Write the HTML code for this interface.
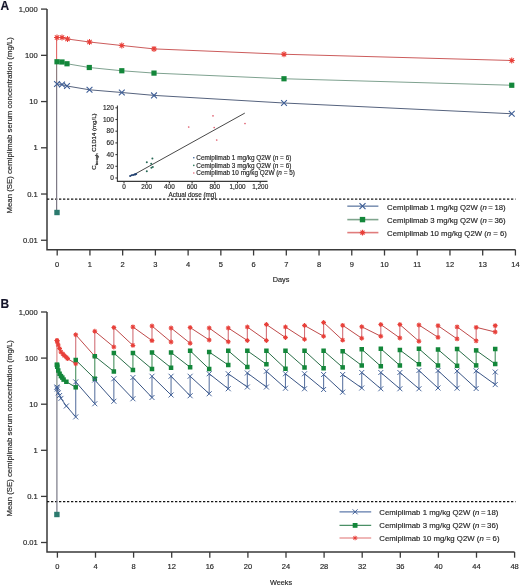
<!DOCTYPE html>
<html><head><meta charset="utf-8"><title>Cemiplimab concentration</title>
<style>html,body{margin:0;padding:0;background:#fff;width:520px;height:586px;overflow:hidden}svg{display:block}</style>
</head><body>
<svg width="520" height="586" viewBox="0 0 520 586" font-family="'Liberation Sans', Arial, Helvetica, sans-serif">
<rect width="520" height="586" fill="#fff"/>
<g transform="translate(0.5 10.0) scale(0.9 1)"><text x="0.00" y="0.00" font-size="13.3" text-anchor="start" fill="#15152a" stroke="#15152a" stroke-width="0.16" font-weight="bold">A</text></g>
<path d="M47,9.10 V249.80 H515.50" stroke="#3a3a3a" stroke-width="1.5" fill="none"/>
<path d="M41,9.10H47" stroke="#3a3a3a" stroke-width="1.3"/>
<text x="37.70" y="11.60" font-size="7.6" text-anchor="end" fill="#262626" stroke="#262626" stroke-width="0.16" >1,000</text>
<path d="M41,55.33H47" stroke="#3a3a3a" stroke-width="1.3"/>
<text x="37.70" y="57.83" font-size="7.6" text-anchor="end" fill="#262626" stroke="#262626" stroke-width="0.16" >100</text>
<path d="M41,101.56H47" stroke="#3a3a3a" stroke-width="1.3"/>
<text x="37.70" y="104.06" font-size="7.6" text-anchor="end" fill="#262626" stroke="#262626" stroke-width="0.16" >10</text>
<path d="M41,147.79H47" stroke="#3a3a3a" stroke-width="1.3"/>
<text x="37.70" y="150.29" font-size="7.6" text-anchor="end" fill="#262626" stroke="#262626" stroke-width="0.16" >1</text>
<path d="M41,194.02H47" stroke="#3a3a3a" stroke-width="1.3"/>
<text x="37.70" y="196.52" font-size="7.6" text-anchor="end" fill="#262626" stroke="#262626" stroke-width="0.16" >0.1</text>
<path d="M41,240.25H47" stroke="#3a3a3a" stroke-width="1.3"/>
<text x="37.70" y="242.75" font-size="7.6" text-anchor="end" fill="#262626" stroke="#262626" stroke-width="0.16" >0.01</text>
<path d="M57.20,249.80V255.50" stroke="#3a3a3a" stroke-width="1.3"/>
<text x="57.20" y="266.70" font-size="7.5" text-anchor="middle" fill="#262626" stroke="#262626" stroke-width="0.16" >0</text>
<path d="M89.93,249.80V255.50" stroke="#3a3a3a" stroke-width="1.3"/>
<text x="89.93" y="266.70" font-size="7.5" text-anchor="middle" fill="#262626" stroke="#262626" stroke-width="0.16" >1</text>
<path d="M122.66,249.80V255.50" stroke="#3a3a3a" stroke-width="1.3"/>
<text x="122.66" y="266.70" font-size="7.5" text-anchor="middle" fill="#262626" stroke="#262626" stroke-width="0.16" >2</text>
<path d="M155.39,249.80V255.50" stroke="#3a3a3a" stroke-width="1.3"/>
<text x="155.39" y="266.70" font-size="7.5" text-anchor="middle" fill="#262626" stroke="#262626" stroke-width="0.16" >3</text>
<path d="M188.12,249.80V255.50" stroke="#3a3a3a" stroke-width="1.3"/>
<text x="188.12" y="266.70" font-size="7.5" text-anchor="middle" fill="#262626" stroke="#262626" stroke-width="0.16" >4</text>
<path d="M220.85,249.80V255.50" stroke="#3a3a3a" stroke-width="1.3"/>
<text x="220.85" y="266.70" font-size="7.5" text-anchor="middle" fill="#262626" stroke="#262626" stroke-width="0.16" >5</text>
<path d="M253.58,249.80V255.50" stroke="#3a3a3a" stroke-width="1.3"/>
<text x="253.58" y="266.70" font-size="7.5" text-anchor="middle" fill="#262626" stroke="#262626" stroke-width="0.16" >6</text>
<path d="M286.31,249.80V255.50" stroke="#3a3a3a" stroke-width="1.3"/>
<text x="286.31" y="266.70" font-size="7.5" text-anchor="middle" fill="#262626" stroke="#262626" stroke-width="0.16" >7</text>
<path d="M319.04,249.80V255.50" stroke="#3a3a3a" stroke-width="1.3"/>
<text x="319.04" y="266.70" font-size="7.5" text-anchor="middle" fill="#262626" stroke="#262626" stroke-width="0.16" >8</text>
<path d="M351.77,249.80V255.50" stroke="#3a3a3a" stroke-width="1.3"/>
<text x="351.77" y="266.70" font-size="7.5" text-anchor="middle" fill="#262626" stroke="#262626" stroke-width="0.16" >9</text>
<path d="M384.50,249.80V255.50" stroke="#3a3a3a" stroke-width="1.3"/>
<text x="384.50" y="266.70" font-size="7.5" text-anchor="middle" fill="#262626" stroke="#262626" stroke-width="0.16" >10</text>
<path d="M417.23,249.80V255.50" stroke="#3a3a3a" stroke-width="1.3"/>
<text x="417.23" y="266.70" font-size="7.5" text-anchor="middle" fill="#262626" stroke="#262626" stroke-width="0.16" >11</text>
<path d="M449.96,249.80V255.50" stroke="#3a3a3a" stroke-width="1.3"/>
<text x="449.96" y="266.70" font-size="7.5" text-anchor="middle" fill="#262626" stroke="#262626" stroke-width="0.16" >12</text>
<path d="M482.69,249.80V255.50" stroke="#3a3a3a" stroke-width="1.3"/>
<text x="482.69" y="266.70" font-size="7.5" text-anchor="middle" fill="#262626" stroke="#262626" stroke-width="0.16" >13</text>
<path d="M515.42,249.80V255.50" stroke="#3a3a3a" stroke-width="1.3"/>
<text x="515.42" y="266.70" font-size="7.5" text-anchor="middle" fill="#262626" stroke="#262626" stroke-width="0.16" >14</text>
<text x="281.00" y="282.40" font-size="7.3" text-anchor="middle" fill="#262626" stroke="#262626" stroke-width="0.16" >Days</text>
<text x="11.60" y="125.30" font-size="7.8" text-anchor="middle" fill="#262626" stroke="#262626" stroke-width="0.16" transform="rotate(-90 11.6 125.3)">Mean (SE) cemiplimab serum concentration (mg/L)</text>
<path d="M47,199.0H515.5" stroke="#151515" stroke-width="1.25" stroke-dasharray="2.3 1.7"/>
<path d="M56.60,212.50 L56.60,84.00" stroke="#7e7a86" stroke-width="1.25" fill="none" stroke-linejoin="round" />
<path d="M56.60,84.00 L56.60,62.00" stroke="#8e7e80" stroke-width="1.2" fill="none" stroke-linejoin="round" />
<path d="M56.60,62.00 L56.60,37.50" stroke="#e06464" stroke-width="1.1" fill="none" stroke-linejoin="round" />
<path d="M57.00,84.00 L62.00,84.50 L67.00,86.00 L89.50,89.80 L121.80,92.50 L154.00,95.40 L284.00,103.00 L511.75,113.75" stroke="#56637e" stroke-width="1.0" fill="none" stroke-linejoin="round" />
<path d="M57.00,61.75 L62.00,62.00 L67.00,63.75 L89.30,67.50 L121.80,70.75 L154.00,73.10 L284.00,78.75 L511.75,85.25" stroke="#7fa290" stroke-width="1.0" fill="none" stroke-linejoin="round" />
<path d="M57.00,37.50 L62.00,37.50 L67.50,39.00 L89.50,42.00 L121.80,45.50 L154.00,48.90 L284.00,54.25 L511.75,60.50" stroke="#cc5c5c" stroke-width="1.0" fill="none" stroke-linejoin="round" />
<path d="M54.10,81.10L59.90,86.90M54.10,86.90L59.90,81.10" stroke="#3f5f97" stroke-width="1.1" fill="none"/>
<path d="M59.10,81.60L64.90,87.40M59.10,87.40L64.90,81.60" stroke="#3f5f97" stroke-width="1.1" fill="none"/>
<path d="M64.10,83.10L69.90,88.90M64.10,88.90L69.90,83.10" stroke="#3f5f97" stroke-width="1.1" fill="none"/>
<path d="M86.60,86.90L92.40,92.70M86.60,92.70L92.40,86.90" stroke="#3f5f97" stroke-width="1.1" fill="none"/>
<path d="M118.90,89.60L124.70,95.40M118.90,95.40L124.70,89.60" stroke="#3f5f97" stroke-width="1.1" fill="none"/>
<path d="M151.10,92.50L156.90,98.30M151.10,98.30L156.90,92.50" stroke="#3f5f97" stroke-width="1.1" fill="none"/>
<path d="M281.10,100.10L286.90,105.90M281.10,105.90L286.90,100.10" stroke="#3f5f97" stroke-width="1.1" fill="none"/>
<path d="M508.85,110.85L514.65,116.65M508.85,116.65L514.65,110.85" stroke="#3f5f97" stroke-width="1.1" fill="none"/>
<rect x="54.40" y="59.15" width="5.2" height="5.2" fill="#13873a"/>
<rect x="59.40" y="59.40" width="5.2" height="5.2" fill="#13873a"/>
<rect x="64.40" y="61.15" width="5.2" height="5.2" fill="#13873a"/>
<rect x="86.70" y="64.90" width="5.2" height="5.2" fill="#13873a"/>
<rect x="119.20" y="68.15" width="5.2" height="5.2" fill="#13873a"/>
<rect x="151.40" y="70.50" width="5.2" height="5.2" fill="#13873a"/>
<rect x="281.40" y="76.15" width="5.2" height="5.2" fill="#13873a"/>
<rect x="509.15" y="82.65" width="5.2" height="5.2" fill="#13873a"/>
<path d="M54.00,37.50H60.00M57.00,34.50V40.50M54.84,35.34L59.16,39.66M54.84,39.66L59.16,35.34" stroke="#e8403a" stroke-width="1.05" fill="none"/><circle cx="57.00" cy="37.50" r="1.35" fill="#e8403a"/>
<path d="M59.00,37.50H65.00M62.00,34.50V40.50M59.84,35.34L64.16,39.66M59.84,39.66L64.16,35.34" stroke="#e8403a" stroke-width="1.05" fill="none"/><circle cx="62.00" cy="37.50" r="1.35" fill="#e8403a"/>
<path d="M64.50,39.00H70.50M67.50,36.00V42.00M65.34,36.84L69.66,41.16M65.34,41.16L69.66,36.84" stroke="#e8403a" stroke-width="1.05" fill="none"/><circle cx="67.50" cy="39.00" r="1.35" fill="#e8403a"/>
<path d="M86.50,42.00H92.50M89.50,39.00V45.00M87.34,39.84L91.66,44.16M87.34,44.16L91.66,39.84" stroke="#e8403a" stroke-width="1.05" fill="none"/><circle cx="89.50" cy="42.00" r="1.35" fill="#e8403a"/>
<path d="M118.80,45.50H124.80M121.80,42.50V48.50M119.64,43.34L123.96,47.66M119.64,47.66L123.96,43.34" stroke="#e8403a" stroke-width="1.05" fill="none"/><circle cx="121.80" cy="45.50" r="1.35" fill="#e8403a"/>
<path d="M151.00,48.90H157.00M154.00,45.90V51.90M151.84,46.74L156.16,51.06M151.84,51.06L156.16,46.74" stroke="#e8403a" stroke-width="1.05" fill="none"/><circle cx="154.00" cy="48.90" r="1.35" fill="#e8403a"/>
<path d="M281.00,54.25H287.00M284.00,51.25V57.25M281.84,52.09L286.16,56.41M281.84,56.41L286.16,52.09" stroke="#e8403a" stroke-width="1.05" fill="none"/><circle cx="284.00" cy="54.25" r="1.35" fill="#e8403a"/>
<path d="M508.75,60.50H514.75M511.75,57.50V63.50M509.59,58.34L513.91,62.66M509.59,62.66L513.91,58.34" stroke="#e8403a" stroke-width="1.05" fill="none"/><circle cx="511.75" cy="60.50" r="1.35" fill="#e8403a"/>
<rect x="54.30" y="209.80" width="5.4" height="5.4" fill="#2b7a6e"/>
<path d="M347.3,206.2H378.4" stroke="#8095b5" stroke-width="1.6"/>
<path d="M359.50,203.20L365.50,209.20M359.50,209.20L365.50,203.20" stroke="#3f5f97" stroke-width="1.2" fill="none"/>
<text x="387.10" y="209.90" font-size="7.78" text-anchor="start" fill="#262626" stroke="#262626" stroke-width="0.16" >Cemiplimab 1 mg/kg Q2W (<tspan font-style="italic">n</tspan> = 18)</text>
<path d="M347.3,219.6H378.4" stroke="#7fa58d" stroke-width="1.6"/>
<rect x="359.80" y="216.90" width="5.4" height="5.4" fill="#13873a"/>
<text x="387.10" y="223.30" font-size="7.78" text-anchor="start" fill="#262626" stroke="#262626" stroke-width="0.16" >Cemiplimab 3 mg/kg Q2W (<tspan font-style="italic">n</tspan> = 36)</text>
<path d="M347.3,232.6H378.4" stroke="#e07c7c" stroke-width="1.6"/>
<path d="M359.70,232.60H365.30M362.50,229.80V235.40M360.48,230.58L364.52,234.62M360.48,234.62L364.52,230.58" stroke="#e8403a" stroke-width="1.2" fill="none"/><circle cx="362.50" cy="232.60" r="1.26" fill="#e8403a"/>
<text x="387.10" y="236.30" font-size="7.78" text-anchor="start" fill="#262626" stroke="#262626" stroke-width="0.16" >Cemiplimab 10 mg/kg Q2W (<tspan font-style="italic">n</tspan> = 6)</text>
<path d="M117.4,105.5 V181.4 H267.5" stroke="#3a3a3a" stroke-width="1.1" fill="none"/>
<path d="M115.4,178.00H117.4" stroke="#3a3a3a" stroke-width="1.1"/>
<text x="113.80" y="180.20" font-size="6.5" text-anchor="end" fill="#262626" stroke="#262626" stroke-width="0.16" >0</text>
<path d="M115.4,166.30H117.4" stroke="#3a3a3a" stroke-width="1.1"/>
<text x="113.80" y="168.50" font-size="6.5" text-anchor="end" fill="#262626" stroke="#262626" stroke-width="0.16" >20</text>
<path d="M115.4,154.60H117.4" stroke="#3a3a3a" stroke-width="1.1"/>
<text x="113.80" y="156.80" font-size="6.5" text-anchor="end" fill="#262626" stroke="#262626" stroke-width="0.16" >40</text>
<path d="M115.4,142.90H117.4" stroke="#3a3a3a" stroke-width="1.1"/>
<text x="113.80" y="145.10" font-size="6.5" text-anchor="end" fill="#262626" stroke="#262626" stroke-width="0.16" >60</text>
<path d="M115.4,131.20H117.4" stroke="#3a3a3a" stroke-width="1.1"/>
<text x="113.80" y="133.40" font-size="6.5" text-anchor="end" fill="#262626" stroke="#262626" stroke-width="0.16" >80</text>
<path d="M115.4,119.50H117.4" stroke="#3a3a3a" stroke-width="1.1"/>
<text x="113.80" y="121.70" font-size="6.5" text-anchor="end" fill="#262626" stroke="#262626" stroke-width="0.16" >100</text>
<path d="M115.4,107.80H117.4" stroke="#3a3a3a" stroke-width="1.1"/>
<text x="113.80" y="110.00" font-size="6.5" text-anchor="end" fill="#262626" stroke="#262626" stroke-width="0.16" >120</text>
<path d="M124.00,181.4V183.4" stroke="#3a3a3a" stroke-width="1.1"/>
<text x="124.00" y="188.60" font-size="6.4" text-anchor="middle" fill="#262626" stroke="#262626" stroke-width="0.16" >0</text>
<path d="M146.70,181.4V183.4" stroke="#3a3a3a" stroke-width="1.1"/>
<text x="146.70" y="188.60" font-size="6.4" text-anchor="middle" fill="#262626" stroke="#262626" stroke-width="0.16" >200</text>
<path d="M169.40,181.4V183.4" stroke="#3a3a3a" stroke-width="1.1"/>
<text x="169.40" y="188.60" font-size="6.4" text-anchor="middle" fill="#262626" stroke="#262626" stroke-width="0.16" >400</text>
<path d="M192.10,181.4V183.4" stroke="#3a3a3a" stroke-width="1.1"/>
<text x="192.10" y="188.60" font-size="6.4" text-anchor="middle" fill="#262626" stroke="#262626" stroke-width="0.16" >600</text>
<path d="M214.80,181.4V183.4" stroke="#3a3a3a" stroke-width="1.1"/>
<text x="214.80" y="188.60" font-size="6.4" text-anchor="middle" fill="#262626" stroke="#262626" stroke-width="0.16" >800</text>
<path d="M237.50,181.4V183.4" stroke="#3a3a3a" stroke-width="1.1"/>
<text x="237.50" y="188.60" font-size="6.4" text-anchor="middle" fill="#262626" stroke="#262626" stroke-width="0.16" >1,000</text>
<path d="M260.20,181.4V183.4" stroke="#3a3a3a" stroke-width="1.1"/>
<text x="260.20" y="188.60" font-size="6.4" text-anchor="middle" fill="#262626" stroke="#262626" stroke-width="0.16" >1,200</text>
<text x="192.50" y="196.60" font-size="6.35" text-anchor="middle" fill="#262626" stroke="#262626" stroke-width="0.16" >Actual dose (mg)</text>
<text x="96.3" y="141.5" font-size="6.1" text-anchor="middle" fill="#262626" stroke="#262626" stroke-width="0.2" transform="rotate(-90 96.3 141.5)">C<tspan font-size="4.2" dy="1.6">trough</tspan><tspan dy="-1.6"> C1D14 (mg/L)</tspan></text>
<path d="M133,175.2 L244.8,113.1" stroke="#333" stroke-width="0.9"/>
<circle cx="130.1" cy="175.9" r="1.0" fill="#1f3f70"/>
<circle cx="131.6" cy="175.3" r="1.0" fill="#1f3f70"/>
<circle cx="133" cy="175.0" r="1.0" fill="#1f3f70"/>
<circle cx="134.5" cy="174.6" r="1.0" fill="#1f3f70"/>
<circle cx="136.2" cy="174.0" r="1.0" fill="#1f3f70"/>
<circle cx="135.2" cy="174.4" r="1.0" fill="#1f3f70"/>
<circle cx="146.8" cy="162.3" r="1.0" fill="#2a6a58"/>
<circle cx="152.4" cy="158.5" r="1.0" fill="#2a6a58"/>
<circle cx="151.2" cy="163.8" r="1.0" fill="#2a6a58"/>
<circle cx="151.4" cy="167.7" r="1.0" fill="#2a6a58"/>
<circle cx="152.8" cy="167.1" r="1.0" fill="#2a6a58"/>
<circle cx="146.8" cy="171.3" r="1.0" fill="#2a6a58"/>
<circle cx="188.7" cy="127" r="0.85" fill="#e06070"/>
<circle cx="213" cy="115.8" r="0.85" fill="#e06070"/>
<circle cx="214.2" cy="127.5" r="0.85" fill="#e06070"/>
<circle cx="216.7" cy="140" r="0.85" fill="#e06070"/>
<circle cx="245" cy="123.5" r="0.85" fill="#e06070"/>
<circle cx="193.8" cy="157.7" r="0.8" fill="#2f5b8f"/>
<text x="196.30" y="159.90" font-size="6.4" text-anchor="start" fill="#262626" stroke="#262626" stroke-width="0.16" >Cemiplimab 1 mg/kg Q2W (<tspan font-style="italic">n</tspan> = 6)</text>
<circle cx="193.8" cy="165.4" r="0.8" fill="#2c7a5a"/>
<text x="196.30" y="167.60" font-size="6.4" text-anchor="start" fill="#262626" stroke="#262626" stroke-width="0.16" >Cemiplimab 3 mg/kg Q2W (<tspan font-style="italic">n</tspan> = 6)</text>
<circle cx="193.8" cy="173.0" r="0.8" fill="#e06070"/>
<text x="196.30" y="175.20" font-size="6.4" text-anchor="start" fill="#262626" stroke="#262626" stroke-width="0.16" >Cemiplimab 10 mg/kg Q2W (<tspan font-style="italic">n</tspan> = 5)</text>
<g transform="translate(0.5 308.4) scale(0.9 1)"><text x="0.00" y="0.00" font-size="13.3" text-anchor="start" fill="#15152a" stroke="#15152a" stroke-width="0.16" font-weight="bold">B</text></g>
<path d="M47,312.00 V552.00 H514.60" stroke="#3a3a3a" stroke-width="1.5" fill="none"/>
<path d="M41,312.00H47" stroke="#3a3a3a" stroke-width="1.3"/>
<text x="37.70" y="314.50" font-size="7.6" text-anchor="end" fill="#262626" stroke="#262626" stroke-width="0.16" >1,000</text>
<path d="M41,358.10H47" stroke="#3a3a3a" stroke-width="1.3"/>
<text x="37.70" y="360.60" font-size="7.6" text-anchor="end" fill="#262626" stroke="#262626" stroke-width="0.16" >100</text>
<path d="M41,404.20H47" stroke="#3a3a3a" stroke-width="1.3"/>
<text x="37.70" y="406.70" font-size="7.6" text-anchor="end" fill="#262626" stroke="#262626" stroke-width="0.16" >10</text>
<path d="M41,450.30H47" stroke="#3a3a3a" stroke-width="1.3"/>
<text x="37.70" y="452.80" font-size="7.6" text-anchor="end" fill="#262626" stroke="#262626" stroke-width="0.16" >1</text>
<path d="M41,496.40H47" stroke="#3a3a3a" stroke-width="1.3"/>
<text x="37.70" y="498.90" font-size="7.6" text-anchor="end" fill="#262626" stroke="#262626" stroke-width="0.16" >0.1</text>
<path d="M41,542.50H47" stroke="#3a3a3a" stroke-width="1.3"/>
<text x="37.70" y="545.00" font-size="7.6" text-anchor="end" fill="#262626" stroke="#262626" stroke-width="0.16" >0.01</text>
<path d="M57.40,552.00V557.70" stroke="#3a3a3a" stroke-width="1.3"/>
<text x="57.40" y="569.20" font-size="7.5" text-anchor="middle" fill="#262626" stroke="#262626" stroke-width="0.16" >0</text>
<path d="M95.50,552.00V557.70" stroke="#3a3a3a" stroke-width="1.3"/>
<text x="95.50" y="569.20" font-size="7.5" text-anchor="middle" fill="#262626" stroke="#262626" stroke-width="0.16" >4</text>
<path d="M133.60,552.00V557.70" stroke="#3a3a3a" stroke-width="1.3"/>
<text x="133.60" y="569.20" font-size="7.5" text-anchor="middle" fill="#262626" stroke="#262626" stroke-width="0.16" >8</text>
<path d="M171.70,552.00V557.70" stroke="#3a3a3a" stroke-width="1.3"/>
<text x="171.70" y="569.20" font-size="7.5" text-anchor="middle" fill="#262626" stroke="#262626" stroke-width="0.16" >12</text>
<path d="M209.80,552.00V557.70" stroke="#3a3a3a" stroke-width="1.3"/>
<text x="209.80" y="569.20" font-size="7.5" text-anchor="middle" fill="#262626" stroke="#262626" stroke-width="0.16" >16</text>
<path d="M247.90,552.00V557.70" stroke="#3a3a3a" stroke-width="1.3"/>
<text x="247.90" y="569.20" font-size="7.5" text-anchor="middle" fill="#262626" stroke="#262626" stroke-width="0.16" >20</text>
<path d="M286.00,552.00V557.70" stroke="#3a3a3a" stroke-width="1.3"/>
<text x="286.00" y="569.20" font-size="7.5" text-anchor="middle" fill="#262626" stroke="#262626" stroke-width="0.16" >24</text>
<path d="M324.10,552.00V557.70" stroke="#3a3a3a" stroke-width="1.3"/>
<text x="324.10" y="569.20" font-size="7.5" text-anchor="middle" fill="#262626" stroke="#262626" stroke-width="0.16" >28</text>
<path d="M362.20,552.00V557.70" stroke="#3a3a3a" stroke-width="1.3"/>
<text x="362.20" y="569.20" font-size="7.5" text-anchor="middle" fill="#262626" stroke="#262626" stroke-width="0.16" >32</text>
<path d="M400.30,552.00V557.70" stroke="#3a3a3a" stroke-width="1.3"/>
<text x="400.30" y="569.20" font-size="7.5" text-anchor="middle" fill="#262626" stroke="#262626" stroke-width="0.16" >36</text>
<path d="M438.40,552.00V557.70" stroke="#3a3a3a" stroke-width="1.3"/>
<text x="438.40" y="569.20" font-size="7.5" text-anchor="middle" fill="#262626" stroke="#262626" stroke-width="0.16" >40</text>
<path d="M476.50,552.00V557.70" stroke="#3a3a3a" stroke-width="1.3"/>
<text x="476.50" y="569.20" font-size="7.5" text-anchor="middle" fill="#262626" stroke="#262626" stroke-width="0.16" >44</text>
<path d="M514.60,552.00V557.70" stroke="#3a3a3a" stroke-width="1.3"/>
<text x="514.60" y="569.20" font-size="7.5" text-anchor="middle" fill="#262626" stroke="#262626" stroke-width="0.16" >48</text>
<text x="281.00" y="584.90" font-size="7.3" text-anchor="middle" fill="#262626" stroke="#262626" stroke-width="0.16" >Weeks</text>
<text x="11.60" y="428.30" font-size="7.8" text-anchor="middle" fill="#262626" stroke="#262626" stroke-width="0.16" transform="rotate(-90 11.6 428.3)">Mean (SE) cemiplimab serum concentration (mg/L)</text>
<path d="M47,501.5H515.5" stroke="#151515" stroke-width="1.25" stroke-dasharray="2.3 1.7"/>
<path d="M56.90,514.50 L56.90,387.00" stroke="#7e7e8a" stroke-width="1.25" fill="none" stroke-linejoin="round" />
<path d="M56.90,387.00 L56.90,364.75" stroke="#7e8a84" stroke-width="1.2" fill="none" stroke-linejoin="round" />
<path d="M56.90,364.75 L56.90,340.50" stroke="#dc8c8c" stroke-width="1.2" fill="none" stroke-linejoin="round" />
<path d="M75.72,363.75 L75.72,334.75" stroke="#d27078" stroke-width="1.1" fill="none" stroke-linejoin="round" />
<path d="M94.79,356.25 L94.79,331.25" stroke="#d27078" stroke-width="1.1" fill="none" stroke-linejoin="round" />
<path d="M113.85,347.00 L113.85,327.50" stroke="#d27078" stroke-width="1.1" fill="none" stroke-linejoin="round" />
<path d="M132.92,345.40 L132.92,326.90" stroke="#d27078" stroke-width="1.1" fill="none" stroke-linejoin="round" />
<path d="M151.99,340.60 L151.99,326.00" stroke="#d27078" stroke-width="1.1" fill="none" stroke-linejoin="round" />
<path d="M171.06,342.00 L171.06,328.00" stroke="#d27078" stroke-width="1.1" fill="none" stroke-linejoin="round" />
<path d="M190.13,343.25 L190.13,327.50" stroke="#d27078" stroke-width="1.1" fill="none" stroke-linejoin="round" />
<path d="M209.19,340.00 L209.19,328.00" stroke="#d27078" stroke-width="1.1" fill="none" stroke-linejoin="round" />
<path d="M228.26,341.75 L228.26,328.00" stroke="#d27078" stroke-width="1.1" fill="none" stroke-linejoin="round" />
<path d="M247.33,340.50 L247.33,327.00" stroke="#d27078" stroke-width="1.1" fill="none" stroke-linejoin="round" />
<path d="M266.40,340.50 L266.40,324.50" stroke="#d27078" stroke-width="1.1" fill="none" stroke-linejoin="round" />
<path d="M285.47,337.50 L285.47,327.00" stroke="#d27078" stroke-width="1.1" fill="none" stroke-linejoin="round" />
<path d="M304.53,339.25 L304.53,325.50" stroke="#d27078" stroke-width="1.1" fill="none" stroke-linejoin="round" />
<path d="M323.60,336.25 L323.60,322.50" stroke="#d27078" stroke-width="1.1" fill="none" stroke-linejoin="round" />
<path d="M342.67,340.20 L342.67,325.30" stroke="#d27078" stroke-width="1.1" fill="none" stroke-linejoin="round" />
<path d="M361.74,338.25 L361.74,326.75" stroke="#d27078" stroke-width="1.1" fill="none" stroke-linejoin="round" />
<path d="M380.81,336.25 L380.81,324.50" stroke="#d27078" stroke-width="1.1" fill="none" stroke-linejoin="round" />
<path d="M399.87,338.00 L399.87,324.50" stroke="#d27078" stroke-width="1.1" fill="none" stroke-linejoin="round" />
<path d="M418.94,341.25 L418.94,325.00" stroke="#d27078" stroke-width="1.1" fill="none" stroke-linejoin="round" />
<path d="M438.01,337.30 L438.01,325.70" stroke="#d27078" stroke-width="1.1" fill="none" stroke-linejoin="round" />
<path d="M457.08,338.90 L457.08,326.90" stroke="#d27078" stroke-width="1.1" fill="none" stroke-linejoin="round" />
<path d="M476.15,340.80 L476.15,327.30" stroke="#d27078" stroke-width="1.1" fill="none" stroke-linejoin="round" />
<path d="M495.21,332.00 L495.21,325.60" stroke="#d27078" stroke-width="1.1" fill="none" stroke-linejoin="round" />
<path d="M56.90,340.50 L57.11,340.50 L57.34,342.00 L58.25,345.00 L59.60,348.50 L60.94,351.90 L62.80,353.80 L64.30,355.60 L66.35,357.25 L67.60,358.60 L75.72,363.75" stroke="#bf4a4a" stroke-width="1.0" fill="none" stroke-linejoin="round" />
<path d="M75.72,334.75 L94.79,356.25" stroke="#bf4a4a" stroke-width="1.0" fill="none" stroke-linejoin="round" />
<path d="M94.79,331.25 L113.85,347.00" stroke="#bf4a4a" stroke-width="1.0" fill="none" stroke-linejoin="round" />
<path d="M113.85,327.50 L132.92,345.40" stroke="#bf4a4a" stroke-width="1.0" fill="none" stroke-linejoin="round" />
<path d="M132.92,326.90 L151.99,340.60" stroke="#bf4a4a" stroke-width="1.0" fill="none" stroke-linejoin="round" />
<path d="M151.99,326.00 L171.06,342.00" stroke="#bf4a4a" stroke-width="1.0" fill="none" stroke-linejoin="round" />
<path d="M171.06,328.00 L190.13,343.25" stroke="#bf4a4a" stroke-width="1.0" fill="none" stroke-linejoin="round" />
<path d="M190.13,327.50 L209.19,340.00" stroke="#bf4a4a" stroke-width="1.0" fill="none" stroke-linejoin="round" />
<path d="M209.19,328.00 L228.26,341.75" stroke="#bf4a4a" stroke-width="1.0" fill="none" stroke-linejoin="round" />
<path d="M228.26,328.00 L247.33,340.50" stroke="#bf4a4a" stroke-width="1.0" fill="none" stroke-linejoin="round" />
<path d="M247.33,327.00 L266.40,340.50" stroke="#bf4a4a" stroke-width="1.0" fill="none" stroke-linejoin="round" />
<path d="M266.40,324.50 L285.47,337.50" stroke="#bf4a4a" stroke-width="1.0" fill="none" stroke-linejoin="round" />
<path d="M285.47,327.00 L304.53,339.25" stroke="#bf4a4a" stroke-width="1.0" fill="none" stroke-linejoin="round" />
<path d="M304.53,325.50 L323.60,336.25" stroke="#bf4a4a" stroke-width="1.0" fill="none" stroke-linejoin="round" />
<path d="M323.60,322.50 L342.67,340.20" stroke="#bf4a4a" stroke-width="1.0" fill="none" stroke-linejoin="round" />
<path d="M342.67,325.30 L361.74,338.25" stroke="#bf4a4a" stroke-width="1.0" fill="none" stroke-linejoin="round" />
<path d="M361.74,326.75 L380.81,336.25" stroke="#bf4a4a" stroke-width="1.0" fill="none" stroke-linejoin="round" />
<path d="M380.81,324.50 L399.87,338.00" stroke="#bf4a4a" stroke-width="1.0" fill="none" stroke-linejoin="round" />
<path d="M399.87,324.50 L418.94,341.25" stroke="#bf4a4a" stroke-width="1.0" fill="none" stroke-linejoin="round" />
<path d="M418.94,325.00 L438.01,337.30" stroke="#bf4a4a" stroke-width="1.0" fill="none" stroke-linejoin="round" />
<path d="M438.01,325.70 L457.08,338.90" stroke="#bf4a4a" stroke-width="1.0" fill="none" stroke-linejoin="round" />
<path d="M457.08,326.90 L476.15,340.80" stroke="#bf4a4a" stroke-width="1.0" fill="none" stroke-linejoin="round" />
<path d="M476.15,327.30 L495.21,332.00" stroke="#bf4a4a" stroke-width="1.0" fill="none" stroke-linejoin="round" />
<path d="M75.72,387.30 L75.72,360.00" stroke="#47905e" stroke-width="1.1" fill="none" stroke-linejoin="round" />
<path d="M94.79,378.75 L94.79,356.25" stroke="#47905e" stroke-width="1.1" fill="none" stroke-linejoin="round" />
<path d="M113.85,371.50 L113.85,353.00" stroke="#47905e" stroke-width="1.1" fill="none" stroke-linejoin="round" />
<path d="M132.92,370.00 L132.92,353.00" stroke="#47905e" stroke-width="1.1" fill="none" stroke-linejoin="round" />
<path d="M151.99,369.00 L151.99,352.50" stroke="#47905e" stroke-width="1.1" fill="none" stroke-linejoin="round" />
<path d="M171.06,367.75 L171.06,352.50" stroke="#47905e" stroke-width="1.1" fill="none" stroke-linejoin="round" />
<path d="M190.13,367.25 L190.13,350.75" stroke="#47905e" stroke-width="1.1" fill="none" stroke-linejoin="round" />
<path d="M209.19,369.00 L209.19,352.00" stroke="#47905e" stroke-width="1.1" fill="none" stroke-linejoin="round" />
<path d="M228.26,365.00 L228.26,350.75" stroke="#47905e" stroke-width="1.1" fill="none" stroke-linejoin="round" />
<path d="M247.33,367.00 L247.33,350.75" stroke="#47905e" stroke-width="1.1" fill="none" stroke-linejoin="round" />
<path d="M266.40,364.25 L266.40,350.75" stroke="#47905e" stroke-width="1.1" fill="none" stroke-linejoin="round" />
<path d="M285.47,368.75 L285.47,350.75" stroke="#47905e" stroke-width="1.1" fill="none" stroke-linejoin="round" />
<path d="M304.53,367.50 L304.53,350.75" stroke="#47905e" stroke-width="1.1" fill="none" stroke-linejoin="round" />
<path d="M323.60,368.25 L323.60,350.75" stroke="#47905e" stroke-width="1.1" fill="none" stroke-linejoin="round" />
<path d="M342.67,367.40 L342.67,351.25" stroke="#47905e" stroke-width="1.1" fill="none" stroke-linejoin="round" />
<path d="M361.74,365.50 L361.74,349.25" stroke="#47905e" stroke-width="1.1" fill="none" stroke-linejoin="round" />
<path d="M380.81,366.25 L380.81,348.75" stroke="#47905e" stroke-width="1.1" fill="none" stroke-linejoin="round" />
<path d="M399.87,365.50 L399.87,350.00" stroke="#47905e" stroke-width="1.1" fill="none" stroke-linejoin="round" />
<path d="M418.94,364.25 L418.94,348.75" stroke="#47905e" stroke-width="1.1" fill="none" stroke-linejoin="round" />
<path d="M438.01,365.50 L438.01,349.50" stroke="#47905e" stroke-width="1.1" fill="none" stroke-linejoin="round" />
<path d="M457.08,365.80 L457.08,349.00" stroke="#47905e" stroke-width="1.1" fill="none" stroke-linejoin="round" />
<path d="M476.15,365.40 L476.15,350.40" stroke="#47905e" stroke-width="1.1" fill="none" stroke-linejoin="round" />
<path d="M495.21,364.00 L495.21,349.00" stroke="#47905e" stroke-width="1.1" fill="none" stroke-linejoin="round" />
<path d="M56.90,364.75 L57.11,365.00 L57.32,366.75 L58.24,370.50 L59.60,373.75 L60.94,376.10 L62.30,377.60 L63.60,379.60 L66.35,381.75 L75.72,387.30" stroke="#2a6e48" stroke-width="1.0" fill="none" stroke-linejoin="round" />
<path d="M75.72,360.00 L94.79,378.75" stroke="#2a6e48" stroke-width="1.0" fill="none" stroke-linejoin="round" />
<path d="M94.79,356.25 L113.85,371.50" stroke="#2a6e48" stroke-width="1.0" fill="none" stroke-linejoin="round" />
<path d="M113.85,353.00 L132.92,370.00" stroke="#2a6e48" stroke-width="1.0" fill="none" stroke-linejoin="round" />
<path d="M132.92,353.00 L151.99,369.00" stroke="#2a6e48" stroke-width="1.0" fill="none" stroke-linejoin="round" />
<path d="M151.99,352.50 L171.06,367.75" stroke="#2a6e48" stroke-width="1.0" fill="none" stroke-linejoin="round" />
<path d="M171.06,352.50 L190.13,367.25" stroke="#2a6e48" stroke-width="1.0" fill="none" stroke-linejoin="round" />
<path d="M190.13,350.75 L209.19,369.00" stroke="#2a6e48" stroke-width="1.0" fill="none" stroke-linejoin="round" />
<path d="M209.19,352.00 L228.26,365.00" stroke="#2a6e48" stroke-width="1.0" fill="none" stroke-linejoin="round" />
<path d="M228.26,350.75 L247.33,367.00" stroke="#2a6e48" stroke-width="1.0" fill="none" stroke-linejoin="round" />
<path d="M247.33,350.75 L266.40,364.25" stroke="#2a6e48" stroke-width="1.0" fill="none" stroke-linejoin="round" />
<path d="M266.40,350.75 L285.47,368.75" stroke="#2a6e48" stroke-width="1.0" fill="none" stroke-linejoin="round" />
<path d="M285.47,350.75 L304.53,367.50" stroke="#2a6e48" stroke-width="1.0" fill="none" stroke-linejoin="round" />
<path d="M304.53,350.75 L323.60,368.25" stroke="#2a6e48" stroke-width="1.0" fill="none" stroke-linejoin="round" />
<path d="M323.60,350.75 L342.67,367.40" stroke="#2a6e48" stroke-width="1.0" fill="none" stroke-linejoin="round" />
<path d="M342.67,351.25 L361.74,365.50" stroke="#2a6e48" stroke-width="1.0" fill="none" stroke-linejoin="round" />
<path d="M361.74,349.25 L380.81,366.25" stroke="#2a6e48" stroke-width="1.0" fill="none" stroke-linejoin="round" />
<path d="M380.81,348.75 L399.87,365.50" stroke="#2a6e48" stroke-width="1.0" fill="none" stroke-linejoin="round" />
<path d="M399.87,350.00 L418.94,364.25" stroke="#2a6e48" stroke-width="1.0" fill="none" stroke-linejoin="round" />
<path d="M418.94,348.75 L438.01,365.50" stroke="#2a6e48" stroke-width="1.0" fill="none" stroke-linejoin="round" />
<path d="M438.01,349.50 L457.08,365.80" stroke="#2a6e48" stroke-width="1.0" fill="none" stroke-linejoin="round" />
<path d="M457.08,349.00 L476.15,365.40" stroke="#2a6e48" stroke-width="1.0" fill="none" stroke-linejoin="round" />
<path d="M476.15,350.40 L495.21,364.00" stroke="#2a6e48" stroke-width="1.0" fill="none" stroke-linejoin="round" />
<path d="M75.72,416.90 L75.72,381.90" stroke="#6078a4" stroke-width="1.1" fill="none" stroke-linejoin="round" />
<path d="M94.79,403.75 L94.79,380.00" stroke="#6078a4" stroke-width="1.1" fill="none" stroke-linejoin="round" />
<path d="M113.85,401.25 L113.85,378.75" stroke="#6078a4" stroke-width="1.1" fill="none" stroke-linejoin="round" />
<path d="M132.92,398.75 L132.92,377.50" stroke="#6078a4" stroke-width="1.1" fill="none" stroke-linejoin="round" />
<path d="M151.99,397.50 L151.99,376.25" stroke="#6078a4" stroke-width="1.1" fill="none" stroke-linejoin="round" />
<path d="M171.06,395.00 L171.06,376.25" stroke="#6078a4" stroke-width="1.1" fill="none" stroke-linejoin="round" />
<path d="M190.13,395.75 L190.13,376.25" stroke="#6078a4" stroke-width="1.1" fill="none" stroke-linejoin="round" />
<path d="M209.19,393.75 L209.19,373.75" stroke="#6078a4" stroke-width="1.1" fill="none" stroke-linejoin="round" />
<path d="M228.26,388.75 L228.26,373.75" stroke="#6078a4" stroke-width="1.1" fill="none" stroke-linejoin="round" />
<path d="M247.33,387.00 L247.33,373.00" stroke="#6078a4" stroke-width="1.1" fill="none" stroke-linejoin="round" />
<path d="M266.40,387.00 L266.40,371.25" stroke="#6078a4" stroke-width="1.1" fill="none" stroke-linejoin="round" />
<path d="M285.47,388.25 L285.47,373.75" stroke="#6078a4" stroke-width="1.1" fill="none" stroke-linejoin="round" />
<path d="M304.53,388.75 L304.53,373.75" stroke="#6078a4" stroke-width="1.1" fill="none" stroke-linejoin="round" />
<path d="M323.60,389.50 L323.60,374.50" stroke="#6078a4" stroke-width="1.1" fill="none" stroke-linejoin="round" />
<path d="M342.67,392.20 L342.67,374.50" stroke="#6078a4" stroke-width="1.1" fill="none" stroke-linejoin="round" />
<path d="M361.74,388.00 L361.74,372.50" stroke="#6078a4" stroke-width="1.1" fill="none" stroke-linejoin="round" />
<path d="M380.81,388.75 L380.81,372.50" stroke="#6078a4" stroke-width="1.1" fill="none" stroke-linejoin="round" />
<path d="M399.87,388.75 L399.87,372.50" stroke="#6078a4" stroke-width="1.1" fill="none" stroke-linejoin="round" />
<path d="M418.94,388.75 L418.94,370.50" stroke="#6078a4" stroke-width="1.1" fill="none" stroke-linejoin="round" />
<path d="M438.01,388.00 L438.01,370.60" stroke="#6078a4" stroke-width="1.1" fill="none" stroke-linejoin="round" />
<path d="M457.08,388.20 L457.08,371.00" stroke="#6078a4" stroke-width="1.1" fill="none" stroke-linejoin="round" />
<path d="M476.15,388.50 L476.15,370.80" stroke="#6078a4" stroke-width="1.1" fill="none" stroke-linejoin="round" />
<path d="M495.21,384.60 L495.21,372.00" stroke="#6078a4" stroke-width="1.1" fill="none" stroke-linejoin="round" />
<path d="M56.90,387.00 L57.11,387.50 L57.32,389.00 L58.25,392.80 L59.60,395.50 L60.94,398.40 L66.35,406.00 L75.72,416.90" stroke="#3a5585" stroke-width="1.0" fill="none" stroke-linejoin="round" />
<path d="M75.72,381.90 L94.79,403.75" stroke="#3a5585" stroke-width="1.0" fill="none" stroke-linejoin="round" />
<path d="M94.79,380.00 L113.85,401.25" stroke="#3a5585" stroke-width="1.0" fill="none" stroke-linejoin="round" />
<path d="M113.85,378.75 L132.92,398.75" stroke="#3a5585" stroke-width="1.0" fill="none" stroke-linejoin="round" />
<path d="M132.92,377.50 L151.99,397.50" stroke="#3a5585" stroke-width="1.0" fill="none" stroke-linejoin="round" />
<path d="M151.99,376.25 L171.06,395.00" stroke="#3a5585" stroke-width="1.0" fill="none" stroke-linejoin="round" />
<path d="M171.06,376.25 L190.13,395.75" stroke="#3a5585" stroke-width="1.0" fill="none" stroke-linejoin="round" />
<path d="M190.13,376.25 L209.19,393.75" stroke="#3a5585" stroke-width="1.0" fill="none" stroke-linejoin="round" />
<path d="M209.19,373.75 L228.26,388.75" stroke="#3a5585" stroke-width="1.0" fill="none" stroke-linejoin="round" />
<path d="M228.26,373.75 L247.33,387.00" stroke="#3a5585" stroke-width="1.0" fill="none" stroke-linejoin="round" />
<path d="M247.33,373.00 L266.40,387.00" stroke="#3a5585" stroke-width="1.0" fill="none" stroke-linejoin="round" />
<path d="M266.40,371.25 L285.47,388.25" stroke="#3a5585" stroke-width="1.0" fill="none" stroke-linejoin="round" />
<path d="M285.47,373.75 L304.53,388.75" stroke="#3a5585" stroke-width="1.0" fill="none" stroke-linejoin="round" />
<path d="M304.53,373.75 L323.60,389.50" stroke="#3a5585" stroke-width="1.0" fill="none" stroke-linejoin="round" />
<path d="M323.60,374.50 L342.67,392.20" stroke="#3a5585" stroke-width="1.0" fill="none" stroke-linejoin="round" />
<path d="M342.67,374.50 L361.74,388.00" stroke="#3a5585" stroke-width="1.0" fill="none" stroke-linejoin="round" />
<path d="M361.74,372.50 L380.81,388.75" stroke="#3a5585" stroke-width="1.0" fill="none" stroke-linejoin="round" />
<path d="M380.81,372.50 L399.87,388.75" stroke="#3a5585" stroke-width="1.0" fill="none" stroke-linejoin="round" />
<path d="M399.87,372.50 L418.94,388.75" stroke="#3a5585" stroke-width="1.0" fill="none" stroke-linejoin="round" />
<path d="M418.94,370.50 L438.01,388.00" stroke="#3a5585" stroke-width="1.0" fill="none" stroke-linejoin="round" />
<path d="M438.01,370.60 L457.08,388.20" stroke="#3a5585" stroke-width="1.0" fill="none" stroke-linejoin="round" />
<path d="M457.08,371.00 L476.15,388.50" stroke="#3a5585" stroke-width="1.0" fill="none" stroke-linejoin="round" />
<path d="M476.15,370.80 L495.21,384.60" stroke="#3a5585" stroke-width="1.0" fill="none" stroke-linejoin="round" />
<path d="M54.50,340.50H59.30M56.90,338.10V342.90M55.17,338.77L58.63,342.23M55.17,342.23L58.63,338.77" stroke="#e8403a" stroke-width="1.05" fill="none"/><circle cx="56.90" cy="340.50" r="1.08" fill="#e8403a"/>
<path d="M54.71,340.50H59.51M57.11,338.10V342.90M55.38,338.77L58.84,342.23M55.38,342.23L58.84,338.77" stroke="#e8403a" stroke-width="1.05" fill="none"/><circle cx="57.11" cy="340.50" r="1.08" fill="#e8403a"/>
<path d="M54.94,342.00H59.74M57.34,339.60V344.40M55.61,340.27L59.06,343.73M55.61,343.73L59.06,340.27" stroke="#e8403a" stroke-width="1.05" fill="none"/><circle cx="57.34" cy="342.00" r="1.08" fill="#e8403a"/>
<path d="M55.85,345.00H60.65M58.25,342.60V347.40M56.52,343.27L59.98,346.73M56.52,346.73L59.98,343.27" stroke="#e8403a" stroke-width="1.05" fill="none"/><circle cx="58.25" cy="345.00" r="1.08" fill="#e8403a"/>
<path d="M57.20,348.50H62.00M59.60,346.10V350.90M57.87,346.77L61.32,350.23M57.87,350.23L61.32,346.77" stroke="#e8403a" stroke-width="1.05" fill="none"/><circle cx="59.60" cy="348.50" r="1.08" fill="#e8403a"/>
<path d="M58.54,351.90H63.34M60.94,349.50V354.30M59.21,350.17L62.66,353.63M59.21,353.63L62.66,350.17" stroke="#e8403a" stroke-width="1.05" fill="none"/><circle cx="60.94" cy="351.90" r="1.08" fill="#e8403a"/>
<path d="M60.40,353.80H65.20M62.80,351.40V356.20M61.07,352.07L64.53,355.53M61.07,355.53L64.53,352.07" stroke="#e8403a" stroke-width="1.05" fill="none"/><circle cx="62.80" cy="353.80" r="1.08" fill="#e8403a"/>
<path d="M61.90,355.60H66.70M64.30,353.20V358.00M62.57,353.87L66.03,357.33M62.57,357.33L66.03,353.87" stroke="#e8403a" stroke-width="1.05" fill="none"/><circle cx="64.30" cy="355.60" r="1.08" fill="#e8403a"/>
<path d="M63.95,357.25H68.75M66.35,354.85V359.65M64.62,355.52L68.07,358.98M64.62,358.98L68.07,355.52" stroke="#e8403a" stroke-width="1.05" fill="none"/><circle cx="66.35" cy="357.25" r="1.08" fill="#e8403a"/>
<path d="M65.20,358.60H70.00M67.60,356.20V361.00M65.87,356.87L69.33,360.33M65.87,360.33L69.33,356.87" stroke="#e8403a" stroke-width="1.05" fill="none"/><circle cx="67.60" cy="358.60" r="1.08" fill="#e8403a"/>
<path d="M73.32,363.75H78.12M75.72,361.35V366.15M73.99,362.02L77.45,365.48M73.99,365.48L77.45,362.02" stroke="#e8403a" stroke-width="1.05" fill="none"/><circle cx="75.72" cy="363.75" r="1.08" fill="#e8403a"/>
<path d="M92.39,356.25H97.19M94.79,353.85V358.65M93.06,354.52L96.51,357.98M93.06,357.98L96.51,354.52" stroke="#e8403a" stroke-width="1.05" fill="none"/><circle cx="94.79" cy="356.25" r="1.08" fill="#e8403a"/>
<path d="M111.45,347.00H116.25M113.85,344.60V349.40M112.13,345.27L115.58,348.73M112.13,348.73L115.58,345.27" stroke="#e8403a" stroke-width="1.05" fill="none"/><circle cx="113.85" cy="347.00" r="1.08" fill="#e8403a"/>
<path d="M130.52,345.40H135.32M132.92,343.00V347.80M131.19,343.67L134.65,347.13M131.19,347.13L134.65,343.67" stroke="#e8403a" stroke-width="1.05" fill="none"/><circle cx="132.92" cy="345.40" r="1.08" fill="#e8403a"/>
<path d="M149.59,340.60H154.39M151.99,338.20V343.00M150.26,338.87L153.72,342.33M150.26,342.33L153.72,338.87" stroke="#e8403a" stroke-width="1.05" fill="none"/><circle cx="151.99" cy="340.60" r="1.08" fill="#e8403a"/>
<path d="M168.66,342.00H173.46M171.06,339.60V344.40M169.33,340.27L172.79,343.73M169.33,343.73L172.79,340.27" stroke="#e8403a" stroke-width="1.05" fill="none"/><circle cx="171.06" cy="342.00" r="1.08" fill="#e8403a"/>
<path d="M187.73,343.25H192.53M190.13,340.85V345.65M188.40,341.52L191.85,344.98M188.40,344.98L191.85,341.52" stroke="#e8403a" stroke-width="1.05" fill="none"/><circle cx="190.13" cy="343.25" r="1.08" fill="#e8403a"/>
<path d="M206.79,340.00H211.59M209.19,337.60V342.40M207.47,338.27L210.92,341.73M207.47,341.73L210.92,338.27" stroke="#e8403a" stroke-width="1.05" fill="none"/><circle cx="209.19" cy="340.00" r="1.08" fill="#e8403a"/>
<path d="M225.86,341.75H230.66M228.26,339.35V344.15M226.53,340.02L229.99,343.48M226.53,343.48L229.99,340.02" stroke="#e8403a" stroke-width="1.05" fill="none"/><circle cx="228.26" cy="341.75" r="1.08" fill="#e8403a"/>
<path d="M244.93,340.50H249.73M247.33,338.10V342.90M245.60,338.77L249.06,342.23M245.60,342.23L249.06,338.77" stroke="#e8403a" stroke-width="1.05" fill="none"/><circle cx="247.33" cy="340.50" r="1.08" fill="#e8403a"/>
<path d="M264.00,340.50H268.80M266.40,338.10V342.90M264.67,338.77L268.13,342.23M264.67,342.23L268.13,338.77" stroke="#e8403a" stroke-width="1.05" fill="none"/><circle cx="266.40" cy="340.50" r="1.08" fill="#e8403a"/>
<path d="M283.07,337.50H287.87M285.47,335.10V339.90M283.74,335.77L287.19,339.23M283.74,339.23L287.19,335.77" stroke="#e8403a" stroke-width="1.05" fill="none"/><circle cx="285.47" cy="337.50" r="1.08" fill="#e8403a"/>
<path d="M302.13,339.25H306.93M304.53,336.85V341.65M302.81,337.52L306.26,340.98M302.81,340.98L306.26,337.52" stroke="#e8403a" stroke-width="1.05" fill="none"/><circle cx="304.53" cy="339.25" r="1.08" fill="#e8403a"/>
<path d="M321.20,336.25H326.00M323.60,333.85V338.65M321.87,334.52L325.33,337.98M321.87,337.98L325.33,334.52" stroke="#e8403a" stroke-width="1.05" fill="none"/><circle cx="323.60" cy="336.25" r="1.08" fill="#e8403a"/>
<path d="M340.27,340.20H345.07M342.67,337.80V342.60M340.94,338.47L344.40,341.93M340.94,341.93L344.40,338.47" stroke="#e8403a" stroke-width="1.05" fill="none"/><circle cx="342.67" cy="340.20" r="1.08" fill="#e8403a"/>
<path d="M359.34,338.25H364.14M361.74,335.85V340.65M360.01,336.52L363.47,339.98M360.01,339.98L363.47,336.52" stroke="#e8403a" stroke-width="1.05" fill="none"/><circle cx="361.74" cy="338.25" r="1.08" fill="#e8403a"/>
<path d="M378.41,336.25H383.21M380.81,333.85V338.65M379.08,334.52L382.53,337.98M379.08,337.98L382.53,334.52" stroke="#e8403a" stroke-width="1.05" fill="none"/><circle cx="380.81" cy="336.25" r="1.08" fill="#e8403a"/>
<path d="M397.47,338.00H402.27M399.87,335.60V340.40M398.15,336.27L401.60,339.73M398.15,339.73L401.60,336.27" stroke="#e8403a" stroke-width="1.05" fill="none"/><circle cx="399.87" cy="338.00" r="1.08" fill="#e8403a"/>
<path d="M416.54,341.25H421.34M418.94,338.85V343.65M417.21,339.52L420.67,342.98M417.21,342.98L420.67,339.52" stroke="#e8403a" stroke-width="1.05" fill="none"/><circle cx="418.94" cy="341.25" r="1.08" fill="#e8403a"/>
<path d="M435.61,337.30H440.41M438.01,334.90V339.70M436.28,335.57L439.74,339.03M436.28,339.03L439.74,335.57" stroke="#e8403a" stroke-width="1.05" fill="none"/><circle cx="438.01" cy="337.30" r="1.08" fill="#e8403a"/>
<path d="M454.68,338.90H459.48M457.08,336.50V341.30M455.35,337.17L458.81,340.63M455.35,340.63L458.81,337.17" stroke="#e8403a" stroke-width="1.05" fill="none"/><circle cx="457.08" cy="338.90" r="1.08" fill="#e8403a"/>
<path d="M473.75,340.80H478.55M476.15,338.40V343.20M474.42,339.07L477.87,342.53M474.42,342.53L477.87,339.07" stroke="#e8403a" stroke-width="1.05" fill="none"/><circle cx="476.15" cy="340.80" r="1.08" fill="#e8403a"/>
<path d="M492.81,332.00H497.61M495.21,329.60V334.40M493.49,330.27L496.94,333.73M493.49,333.73L496.94,330.27" stroke="#e8403a" stroke-width="1.05" fill="none"/><circle cx="495.21" cy="332.00" r="1.08" fill="#e8403a"/>
<path d="M73.32,334.75H78.12M75.72,332.35V337.15M73.99,333.02L77.45,336.48M73.99,336.48L77.45,333.02" stroke="#e8403a" stroke-width="1.05" fill="none"/><circle cx="75.72" cy="334.75" r="1.08" fill="#e8403a"/>
<path d="M92.39,331.25H97.19M94.79,328.85V333.65M93.06,329.52L96.51,332.98M93.06,332.98L96.51,329.52" stroke="#e8403a" stroke-width="1.05" fill="none"/><circle cx="94.79" cy="331.25" r="1.08" fill="#e8403a"/>
<path d="M111.45,327.50H116.25M113.85,325.10V329.90M112.13,325.77L115.58,329.23M112.13,329.23L115.58,325.77" stroke="#e8403a" stroke-width="1.05" fill="none"/><circle cx="113.85" cy="327.50" r="1.08" fill="#e8403a"/>
<path d="M130.52,326.90H135.32M132.92,324.50V329.30M131.19,325.17L134.65,328.63M131.19,328.63L134.65,325.17" stroke="#e8403a" stroke-width="1.05" fill="none"/><circle cx="132.92" cy="326.90" r="1.08" fill="#e8403a"/>
<path d="M149.59,326.00H154.39M151.99,323.60V328.40M150.26,324.27L153.72,327.73M150.26,327.73L153.72,324.27" stroke="#e8403a" stroke-width="1.05" fill="none"/><circle cx="151.99" cy="326.00" r="1.08" fill="#e8403a"/>
<path d="M168.66,328.00H173.46M171.06,325.60V330.40M169.33,326.27L172.79,329.73M169.33,329.73L172.79,326.27" stroke="#e8403a" stroke-width="1.05" fill="none"/><circle cx="171.06" cy="328.00" r="1.08" fill="#e8403a"/>
<path d="M187.73,327.50H192.53M190.13,325.10V329.90M188.40,325.77L191.85,329.23M188.40,329.23L191.85,325.77" stroke="#e8403a" stroke-width="1.05" fill="none"/><circle cx="190.13" cy="327.50" r="1.08" fill="#e8403a"/>
<path d="M206.79,328.00H211.59M209.19,325.60V330.40M207.47,326.27L210.92,329.73M207.47,329.73L210.92,326.27" stroke="#e8403a" stroke-width="1.05" fill="none"/><circle cx="209.19" cy="328.00" r="1.08" fill="#e8403a"/>
<path d="M225.86,328.00H230.66M228.26,325.60V330.40M226.53,326.27L229.99,329.73M226.53,329.73L229.99,326.27" stroke="#e8403a" stroke-width="1.05" fill="none"/><circle cx="228.26" cy="328.00" r="1.08" fill="#e8403a"/>
<path d="M244.93,327.00H249.73M247.33,324.60V329.40M245.60,325.27L249.06,328.73M245.60,328.73L249.06,325.27" stroke="#e8403a" stroke-width="1.05" fill="none"/><circle cx="247.33" cy="327.00" r="1.08" fill="#e8403a"/>
<path d="M264.00,324.50H268.80M266.40,322.10V326.90M264.67,322.77L268.13,326.23M264.67,326.23L268.13,322.77" stroke="#e8403a" stroke-width="1.05" fill="none"/><circle cx="266.40" cy="324.50" r="1.08" fill="#e8403a"/>
<path d="M283.07,327.00H287.87M285.47,324.60V329.40M283.74,325.27L287.19,328.73M283.74,328.73L287.19,325.27" stroke="#e8403a" stroke-width="1.05" fill="none"/><circle cx="285.47" cy="327.00" r="1.08" fill="#e8403a"/>
<path d="M302.13,325.50H306.93M304.53,323.10V327.90M302.81,323.77L306.26,327.23M302.81,327.23L306.26,323.77" stroke="#e8403a" stroke-width="1.05" fill="none"/><circle cx="304.53" cy="325.50" r="1.08" fill="#e8403a"/>
<path d="M321.20,322.50H326.00M323.60,320.10V324.90M321.87,320.77L325.33,324.23M321.87,324.23L325.33,320.77" stroke="#e8403a" stroke-width="1.05" fill="none"/><circle cx="323.60" cy="322.50" r="1.08" fill="#e8403a"/>
<path d="M340.27,325.30H345.07M342.67,322.90V327.70M340.94,323.57L344.40,327.03M340.94,327.03L344.40,323.57" stroke="#e8403a" stroke-width="1.05" fill="none"/><circle cx="342.67" cy="325.30" r="1.08" fill="#e8403a"/>
<path d="M359.34,326.75H364.14M361.74,324.35V329.15M360.01,325.02L363.47,328.48M360.01,328.48L363.47,325.02" stroke="#e8403a" stroke-width="1.05" fill="none"/><circle cx="361.74" cy="326.75" r="1.08" fill="#e8403a"/>
<path d="M378.41,324.50H383.21M380.81,322.10V326.90M379.08,322.77L382.53,326.23M379.08,326.23L382.53,322.77" stroke="#e8403a" stroke-width="1.05" fill="none"/><circle cx="380.81" cy="324.50" r="1.08" fill="#e8403a"/>
<path d="M397.47,324.50H402.27M399.87,322.10V326.90M398.15,322.77L401.60,326.23M398.15,326.23L401.60,322.77" stroke="#e8403a" stroke-width="1.05" fill="none"/><circle cx="399.87" cy="324.50" r="1.08" fill="#e8403a"/>
<path d="M416.54,325.00H421.34M418.94,322.60V327.40M417.21,323.27L420.67,326.73M417.21,326.73L420.67,323.27" stroke="#e8403a" stroke-width="1.05" fill="none"/><circle cx="418.94" cy="325.00" r="1.08" fill="#e8403a"/>
<path d="M435.61,325.70H440.41M438.01,323.30V328.10M436.28,323.97L439.74,327.43M436.28,327.43L439.74,323.97" stroke="#e8403a" stroke-width="1.05" fill="none"/><circle cx="438.01" cy="325.70" r="1.08" fill="#e8403a"/>
<path d="M454.68,326.90H459.48M457.08,324.50V329.30M455.35,325.17L458.81,328.63M455.35,328.63L458.81,325.17" stroke="#e8403a" stroke-width="1.05" fill="none"/><circle cx="457.08" cy="326.90" r="1.08" fill="#e8403a"/>
<path d="M473.75,327.30H478.55M476.15,324.90V329.70M474.42,325.57L477.87,329.03M474.42,329.03L477.87,325.57" stroke="#e8403a" stroke-width="1.05" fill="none"/><circle cx="476.15" cy="327.30" r="1.08" fill="#e8403a"/>
<path d="M492.81,325.60H497.61M495.21,323.20V328.00M493.49,323.87L496.94,327.33M493.49,327.33L496.94,323.87" stroke="#e8403a" stroke-width="1.05" fill="none"/><circle cx="495.21" cy="325.60" r="1.08" fill="#e8403a"/>
<rect x="54.65" y="362.50" width="4.5" height="4.5" fill="#13873a"/>
<rect x="54.86" y="362.75" width="4.5" height="4.5" fill="#13873a"/>
<rect x="55.07" y="364.50" width="4.5" height="4.5" fill="#13873a"/>
<rect x="55.99" y="368.25" width="4.5" height="4.5" fill="#13873a"/>
<rect x="57.35" y="371.50" width="4.5" height="4.5" fill="#13873a"/>
<rect x="58.69" y="373.85" width="4.5" height="4.5" fill="#13873a"/>
<rect x="60.05" y="375.35" width="4.5" height="4.5" fill="#13873a"/>
<rect x="61.35" y="377.35" width="4.5" height="4.5" fill="#13873a"/>
<rect x="64.10" y="379.50" width="4.5" height="4.5" fill="#13873a"/>
<rect x="73.47" y="385.05" width="4.5" height="4.5" fill="#13873a"/>
<rect x="92.54" y="376.50" width="4.5" height="4.5" fill="#13873a"/>
<rect x="111.60" y="369.25" width="4.5" height="4.5" fill="#13873a"/>
<rect x="130.67" y="367.75" width="4.5" height="4.5" fill="#13873a"/>
<rect x="149.74" y="366.75" width="4.5" height="4.5" fill="#13873a"/>
<rect x="168.81" y="365.50" width="4.5" height="4.5" fill="#13873a"/>
<rect x="187.88" y="365.00" width="4.5" height="4.5" fill="#13873a"/>
<rect x="206.94" y="366.75" width="4.5" height="4.5" fill="#13873a"/>
<rect x="226.01" y="362.75" width="4.5" height="4.5" fill="#13873a"/>
<rect x="245.08" y="364.75" width="4.5" height="4.5" fill="#13873a"/>
<rect x="264.15" y="362.00" width="4.5" height="4.5" fill="#13873a"/>
<rect x="283.22" y="366.50" width="4.5" height="4.5" fill="#13873a"/>
<rect x="302.28" y="365.25" width="4.5" height="4.5" fill="#13873a"/>
<rect x="321.35" y="366.00" width="4.5" height="4.5" fill="#13873a"/>
<rect x="340.42" y="365.15" width="4.5" height="4.5" fill="#13873a"/>
<rect x="359.49" y="363.25" width="4.5" height="4.5" fill="#13873a"/>
<rect x="378.56" y="364.00" width="4.5" height="4.5" fill="#13873a"/>
<rect x="397.62" y="363.25" width="4.5" height="4.5" fill="#13873a"/>
<rect x="416.69" y="362.00" width="4.5" height="4.5" fill="#13873a"/>
<rect x="435.76" y="363.25" width="4.5" height="4.5" fill="#13873a"/>
<rect x="454.83" y="363.55" width="4.5" height="4.5" fill="#13873a"/>
<rect x="473.90" y="363.15" width="4.5" height="4.5" fill="#13873a"/>
<rect x="492.96" y="361.75" width="4.5" height="4.5" fill="#13873a"/>
<rect x="73.47" y="357.75" width="4.5" height="4.5" fill="#13873a"/>
<rect x="92.54" y="354.00" width="4.5" height="4.5" fill="#13873a"/>
<rect x="111.60" y="350.75" width="4.5" height="4.5" fill="#13873a"/>
<rect x="130.67" y="350.75" width="4.5" height="4.5" fill="#13873a"/>
<rect x="149.74" y="350.25" width="4.5" height="4.5" fill="#13873a"/>
<rect x="168.81" y="350.25" width="4.5" height="4.5" fill="#13873a"/>
<rect x="187.88" y="348.50" width="4.5" height="4.5" fill="#13873a"/>
<rect x="206.94" y="349.75" width="4.5" height="4.5" fill="#13873a"/>
<rect x="226.01" y="348.50" width="4.5" height="4.5" fill="#13873a"/>
<rect x="245.08" y="348.50" width="4.5" height="4.5" fill="#13873a"/>
<rect x="264.15" y="348.50" width="4.5" height="4.5" fill="#13873a"/>
<rect x="283.22" y="348.50" width="4.5" height="4.5" fill="#13873a"/>
<rect x="302.28" y="348.50" width="4.5" height="4.5" fill="#13873a"/>
<rect x="321.35" y="348.50" width="4.5" height="4.5" fill="#13873a"/>
<rect x="340.42" y="349.00" width="4.5" height="4.5" fill="#13873a"/>
<rect x="359.49" y="347.00" width="4.5" height="4.5" fill="#13873a"/>
<rect x="378.56" y="346.50" width="4.5" height="4.5" fill="#13873a"/>
<rect x="397.62" y="347.75" width="4.5" height="4.5" fill="#13873a"/>
<rect x="416.69" y="346.50" width="4.5" height="4.5" fill="#13873a"/>
<rect x="435.76" y="347.25" width="4.5" height="4.5" fill="#13873a"/>
<rect x="454.83" y="346.75" width="4.5" height="4.5" fill="#13873a"/>
<rect x="473.90" y="348.15" width="4.5" height="4.5" fill="#13873a"/>
<rect x="492.96" y="346.75" width="4.5" height="4.5" fill="#13873a"/>
<path d="M54.40,384.50L59.40,389.50M54.40,389.50L59.40,384.50" stroke="#3f5f97" stroke-width="0.95" fill="none"/>
<path d="M54.61,385.00L59.61,390.00M54.61,390.00L59.61,385.00" stroke="#3f5f97" stroke-width="0.95" fill="none"/>
<path d="M54.82,386.50L59.82,391.50M54.82,391.50L59.82,386.50" stroke="#3f5f97" stroke-width="0.95" fill="none"/>
<path d="M55.75,390.30L60.75,395.30M55.75,395.30L60.75,390.30" stroke="#3f5f97" stroke-width="0.95" fill="none"/>
<path d="M57.10,393.00L62.10,398.00M57.10,398.00L62.10,393.00" stroke="#3f5f97" stroke-width="0.95" fill="none"/>
<path d="M58.44,395.90L63.44,400.90M58.44,400.90L63.44,395.90" stroke="#3f5f97" stroke-width="0.95" fill="none"/>
<path d="M63.85,403.50L68.85,408.50M63.85,408.50L68.85,403.50" stroke="#3f5f97" stroke-width="0.95" fill="none"/>
<path d="M73.22,414.40L78.22,419.40M73.22,419.40L78.22,414.40" stroke="#3f5f97" stroke-width="0.95" fill="none"/>
<path d="M92.29,401.25L97.29,406.25M92.29,406.25L97.29,401.25" stroke="#3f5f97" stroke-width="0.95" fill="none"/>
<path d="M111.35,398.75L116.35,403.75M111.35,403.75L116.35,398.75" stroke="#3f5f97" stroke-width="0.95" fill="none"/>
<path d="M130.42,396.25L135.42,401.25M130.42,401.25L135.42,396.25" stroke="#3f5f97" stroke-width="0.95" fill="none"/>
<path d="M149.49,395.00L154.49,400.00M149.49,400.00L154.49,395.00" stroke="#3f5f97" stroke-width="0.95" fill="none"/>
<path d="M168.56,392.50L173.56,397.50M168.56,397.50L173.56,392.50" stroke="#3f5f97" stroke-width="0.95" fill="none"/>
<path d="M187.63,393.25L192.63,398.25M187.63,398.25L192.63,393.25" stroke="#3f5f97" stroke-width="0.95" fill="none"/>
<path d="M206.69,391.25L211.69,396.25M206.69,396.25L211.69,391.25" stroke="#3f5f97" stroke-width="0.95" fill="none"/>
<path d="M225.76,386.25L230.76,391.25M225.76,391.25L230.76,386.25" stroke="#3f5f97" stroke-width="0.95" fill="none"/>
<path d="M244.83,384.50L249.83,389.50M244.83,389.50L249.83,384.50" stroke="#3f5f97" stroke-width="0.95" fill="none"/>
<path d="M263.90,384.50L268.90,389.50M263.90,389.50L268.90,384.50" stroke="#3f5f97" stroke-width="0.95" fill="none"/>
<path d="M282.97,385.75L287.97,390.75M282.97,390.75L287.97,385.75" stroke="#3f5f97" stroke-width="0.95" fill="none"/>
<path d="M302.03,386.25L307.03,391.25M302.03,391.25L307.03,386.25" stroke="#3f5f97" stroke-width="0.95" fill="none"/>
<path d="M321.10,387.00L326.10,392.00M321.10,392.00L326.10,387.00" stroke="#3f5f97" stroke-width="0.95" fill="none"/>
<path d="M340.17,389.70L345.17,394.70M340.17,394.70L345.17,389.70" stroke="#3f5f97" stroke-width="0.95" fill="none"/>
<path d="M359.24,385.50L364.24,390.50M359.24,390.50L364.24,385.50" stroke="#3f5f97" stroke-width="0.95" fill="none"/>
<path d="M378.31,386.25L383.31,391.25M378.31,391.25L383.31,386.25" stroke="#3f5f97" stroke-width="0.95" fill="none"/>
<path d="M397.37,386.25L402.37,391.25M397.37,391.25L402.37,386.25" stroke="#3f5f97" stroke-width="0.95" fill="none"/>
<path d="M416.44,386.25L421.44,391.25M416.44,391.25L421.44,386.25" stroke="#3f5f97" stroke-width="0.95" fill="none"/>
<path d="M435.51,385.50L440.51,390.50M435.51,390.50L440.51,385.50" stroke="#3f5f97" stroke-width="0.95" fill="none"/>
<path d="M454.58,385.70L459.58,390.70M454.58,390.70L459.58,385.70" stroke="#3f5f97" stroke-width="0.95" fill="none"/>
<path d="M473.65,386.00L478.65,391.00M473.65,391.00L478.65,386.00" stroke="#3f5f97" stroke-width="0.95" fill="none"/>
<path d="M492.71,382.10L497.71,387.10M492.71,387.10L497.71,382.10" stroke="#3f5f97" stroke-width="0.95" fill="none"/>
<path d="M73.22,379.40L78.22,384.40M73.22,384.40L78.22,379.40" stroke="#3f5f97" stroke-width="0.95" fill="none"/>
<path d="M92.29,377.50L97.29,382.50M92.29,382.50L97.29,377.50" stroke="#3f5f97" stroke-width="0.95" fill="none"/>
<path d="M111.35,376.25L116.35,381.25M111.35,381.25L116.35,376.25" stroke="#3f5f97" stroke-width="0.95" fill="none"/>
<path d="M130.42,375.00L135.42,380.00M130.42,380.00L135.42,375.00" stroke="#3f5f97" stroke-width="0.95" fill="none"/>
<path d="M149.49,373.75L154.49,378.75M149.49,378.75L154.49,373.75" stroke="#3f5f97" stroke-width="0.95" fill="none"/>
<path d="M168.56,373.75L173.56,378.75M168.56,378.75L173.56,373.75" stroke="#3f5f97" stroke-width="0.95" fill="none"/>
<path d="M187.63,373.75L192.63,378.75M187.63,378.75L192.63,373.75" stroke="#3f5f97" stroke-width="0.95" fill="none"/>
<path d="M206.69,371.25L211.69,376.25M206.69,376.25L211.69,371.25" stroke="#3f5f97" stroke-width="0.95" fill="none"/>
<path d="M225.76,371.25L230.76,376.25M225.76,376.25L230.76,371.25" stroke="#3f5f97" stroke-width="0.95" fill="none"/>
<path d="M244.83,370.50L249.83,375.50M244.83,375.50L249.83,370.50" stroke="#3f5f97" stroke-width="0.95" fill="none"/>
<path d="M263.90,368.75L268.90,373.75M263.90,373.75L268.90,368.75" stroke="#3f5f97" stroke-width="0.95" fill="none"/>
<path d="M282.97,371.25L287.97,376.25M282.97,376.25L287.97,371.25" stroke="#3f5f97" stroke-width="0.95" fill="none"/>
<path d="M302.03,371.25L307.03,376.25M302.03,376.25L307.03,371.25" stroke="#3f5f97" stroke-width="0.95" fill="none"/>
<path d="M321.10,372.00L326.10,377.00M321.10,377.00L326.10,372.00" stroke="#3f5f97" stroke-width="0.95" fill="none"/>
<path d="M340.17,372.00L345.17,377.00M340.17,377.00L345.17,372.00" stroke="#3f5f97" stroke-width="0.95" fill="none"/>
<path d="M359.24,370.00L364.24,375.00M359.24,375.00L364.24,370.00" stroke="#3f5f97" stroke-width="0.95" fill="none"/>
<path d="M378.31,370.00L383.31,375.00M378.31,375.00L383.31,370.00" stroke="#3f5f97" stroke-width="0.95" fill="none"/>
<path d="M397.37,370.00L402.37,375.00M397.37,375.00L402.37,370.00" stroke="#3f5f97" stroke-width="0.95" fill="none"/>
<path d="M416.44,368.00L421.44,373.00M416.44,373.00L421.44,368.00" stroke="#3f5f97" stroke-width="0.95" fill="none"/>
<path d="M435.51,368.10L440.51,373.10M435.51,373.10L440.51,368.10" stroke="#3f5f97" stroke-width="0.95" fill="none"/>
<path d="M454.58,368.50L459.58,373.50M454.58,373.50L459.58,368.50" stroke="#3f5f97" stroke-width="0.95" fill="none"/>
<path d="M473.65,368.30L478.65,373.30M473.65,373.30L478.65,368.30" stroke="#3f5f97" stroke-width="0.95" fill="none"/>
<path d="M492.71,369.50L497.71,374.50M492.71,374.50L497.71,369.50" stroke="#3f5f97" stroke-width="0.95" fill="none"/>
<rect x="54.20" y="511.80" width="5.4" height="5.4" fill="#2b7a6e"/>
<path d="M339.5,511.8H371.2" stroke="#5f7bab" stroke-width="1.15"/>
<path d="M352.60,509.30L357.60,514.30M352.60,514.30L357.60,509.30" stroke="#3f5f97" stroke-width="1.0" fill="none"/>
<text x="379.30" y="515.10" font-size="7.8" text-anchor="start" fill="#262626" stroke="#262626" stroke-width="0.16" >Cemiplimab 1 mg/kg Q2W (<tspan font-style="italic">n</tspan> = 18)</text>
<path d="M339.5,525.4H371.2" stroke="#4a9066" stroke-width="1.15"/>
<rect x="352.70" y="523.00" width="4.8" height="4.8" fill="#13873a"/>
<text x="379.30" y="528.20" font-size="7.8" text-anchor="start" fill="#262626" stroke="#262626" stroke-width="0.16" >Cemiplimab 3 mg/kg Q2W (<tspan font-style="italic">n</tspan> = 36)</text>
<path d="M339.5,538.0H371.2" stroke="#e07070" stroke-width="1.15"/>
<path d="M352.80,538.00H357.40M355.10,535.70V540.30M353.44,536.34L356.76,539.66M353.44,539.66L356.76,536.34" stroke="#e8403a" stroke-width="1.0" fill="none"/><circle cx="355.10" cy="538.00" r="1.03" fill="#e8403a"/>
<text x="379.30" y="541.30" font-size="7.8" text-anchor="start" fill="#262626" stroke="#262626" stroke-width="0.16" >Cemiplimab 10 mg/kg Q2W (<tspan font-style="italic">n</tspan> = 6)</text>
</svg>
</body></html>
